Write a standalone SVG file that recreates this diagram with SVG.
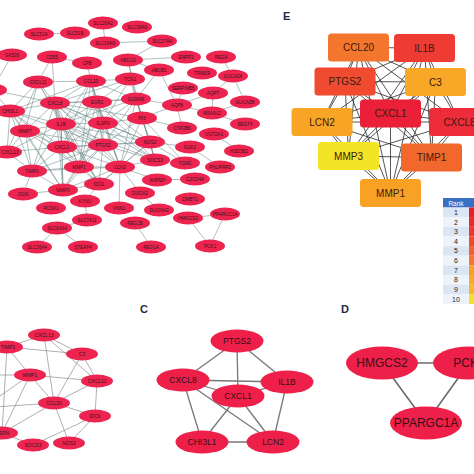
<svg xmlns="http://www.w3.org/2000/svg" width="474" height="474" viewBox="0 0 474 474">
<style>
.bg{fill:#ffffff}
.na ellipse{fill:#ee2450}
.na text{font-family:"Liberation Sans",Arial,sans-serif;font-size:4.6px;fill:#3a1418;text-anchor:middle;dominant-baseline:central}
.nb ellipse{fill:#ee2450}
.nb text{font-family:"Liberation Sans",Arial,sans-serif;font-size:5px;fill:#3a1418;text-anchor:middle;dominant-baseline:central}
.nc ellipse{fill:#ee2049}
.nc text{font-family:"Liberation Sans",Arial,sans-serif;font-size:8.5px;fill:#2e1214;text-anchor:middle;dominant-baseline:central}
.nd ellipse{fill:#ee2049}
.nd text{font-family:"Liberation Sans",Arial,sans-serif;font-size:12px;fill:#3a0e12;text-anchor:middle;dominant-baseline:central}
.ne rect{stroke:none}
.ne text{font-family:"Liberation Sans",Arial,sans-serif;font-size:10px;fill:#3a1a10;text-anchor:middle;dominant-baseline:central}
.ea line{stroke:#6d8c8a;stroke-width:0.55}
.eb line{stroke:#8c8c8c;stroke-width:0.7}
.ec line{stroke:#777777;stroke-width:1.3}
.ed line{stroke:#6b6b6b;stroke-width:1.6}
.ee line{stroke:#2a2a2a;stroke-width:0.8}
.lbl{font-family:"Liberation Sans",Arial,sans-serif;font-weight:bold;font-size:11px;fill:#1f2a44}
.rk{font-family:"Liberation Sans",Arial,sans-serif;font-size:7px;fill:#222;text-anchor:middle;dominant-baseline:central}
</style>
<rect class="bg" x="0" y="0" width="474" height="474"/>

<!-- Panel A connectors -->
<g id="connectors-a" class="ea">
<line x1="103" y1="23" x2="105" y2="43"/><line x1="39" y1="34" x2="75" y2="33"/><line x1="105" y1="43" x2="162" y2="41"/>
<line x1="162" y1="41" x2="128" y2="60"/><line x1="128" y1="60" x2="186" y2="57"/><line x1="128" y1="60" x2="159" y2="70"/>
<line x1="128" y1="60" x2="136" y2="99"/><line x1="128" y1="60" x2="142" y2="118"/><line x1="159" y1="70" x2="177" y2="105"/>
<line x1="159" y1="70" x2="136" y2="99"/><line x1="183" y1="88" x2="177" y2="105"/><line x1="213" y1="93" x2="177" y2="105"/>
<line x1="213" y1="93" x2="233" y2="76"/><line x1="213" y1="93" x2="212" y2="113"/><line x1="233" y1="76" x2="221" y2="57"/>
<line x1="233" y1="76" x2="245" y2="102"/><line x1="212" y1="113" x2="245" y2="102"/><line x1="212" y1="113" x2="245" y2="124"/>
<line x1="177" y1="105" x2="182" y2="128"/><line x1="142" y1="118" x2="182" y2="128"/><line x1="177" y1="105" x2="212" y2="113"/>
<line x1="214" y1="134" x2="239" y2="151"/><line x1="190" y1="147" x2="220" y2="167"/><line x1="188" y1="218" x2="225" y2="214"/>
<line x1="188" y1="218" x2="210" y2="246"/><line x1="225" y1="214" x2="210" y2="246"/><line x1="135" y1="223" x2="151" y2="247"/>
<line x1="140" y1="193" x2="159" y2="210"/><line x1="157" y1="180" x2="195" y2="179"/><line x1="85" y1="201" x2="99" y2="184"/>
<line x1="85" y1="201" x2="87" y2="220"/><line x1="87" y1="220" x2="57" y2="228"/><line x1="57" y1="228" x2="37" y2="247"/>
<line x1="57" y1="228" x2="83" y2="247"/><line x1="32" y1="171" x2="23" y2="194"/><line x1="23" y1="194" x2="63" y2="190"/>
<line x1="120" y1="167" x2="119" y2="208"/><line x1="120" y1="167" x2="140" y2="193"/><line x1="120" y1="167" x2="157" y2="180"/>
<line x1="150" y1="142" x2="185" y2="163"/><line x1="52" y1="57" x2="87" y2="63"/><line x1="52" y1="57" x2="38" y2="82"/>
<line x1="52" y1="57" x2="55" y2="103"/><line x1="87" y1="63" x2="91" y2="81"/><line x1="12" y1="55" x2="-8" y2="90"/>
<line x1="130" y1="79" x2="136" y2="99"/><line x1="142" y1="118" x2="177" y2="105"/><line x1="136" y1="99" x2="177" y2="105"/>
<line x1="150" y1="142" x2="190" y2="147"/><line x1="142" y1="118" x2="185" y2="163"/><line x1="-8" y1="90" x2="55" y2="103"/>
<line x1="-8" y1="90" x2="10" y2="111"/>
<line x1="55" y1="103" x2="38" y2="82"/><line x1="55" y1="103" x2="91" y2="81"/><line x1="55" y1="103" x2="97" y2="102"/>
<line x1="55" y1="103" x2="61" y2="124"/><line x1="55" y1="103" x2="103" y2="123"/><line x1="55" y1="103" x2="62" y2="147"/>
<line x1="55" y1="103" x2="103" y2="145"/><line x1="55" y1="103" x2="79" y2="167"/><line x1="55" y1="103" x2="63" y2="190"/>
<line x1="55" y1="103" x2="25" y2="131"/><line x1="55" y1="103" x2="32" y2="171"/><line x1="55" y1="103" x2="120" y2="167"/>
<line x1="55" y1="103" x2="10" y2="111"/><line x1="55" y1="103" x2="136" y2="99"/><line x1="55" y1="103" x2="142" y2="118"/>
<line x1="55" y1="103" x2="150" y2="142"/><line x1="55" y1="103" x2="155" y2="160"/><line x1="55" y1="103" x2="99" y2="184"/>
<line x1="55" y1="103" x2="130" y2="79"/>
<line x1="61" y1="124" x2="91" y2="81"/><line x1="61" y1="124" x2="97" y2="102"/><line x1="61" y1="124" x2="103" y2="123"/>
<line x1="61" y1="124" x2="62" y2="147"/><line x1="61" y1="124" x2="103" y2="145"/><line x1="61" y1="124" x2="79" y2="167"/>
<line x1="61" y1="124" x2="63" y2="190"/><line x1="61" y1="124" x2="25" y2="131"/><line x1="61" y1="124" x2="32" y2="171"/>
<line x1="61" y1="124" x2="120" y2="167"/><line x1="61" y1="124" x2="10" y2="111"/><line x1="61" y1="124" x2="38" y2="82"/>
<line x1="61" y1="124" x2="136" y2="99"/><line x1="61" y1="124" x2="150" y2="142"/><line x1="61" y1="124" x2="155" y2="160"/>
<line x1="61" y1="124" x2="99" y2="184"/><line x1="61" y1="124" x2="7" y2="152"/>
<line x1="62" y1="147" x2="91" y2="81"/><line x1="62" y1="147" x2="103" y2="145"/><line x1="62" y1="147" x2="79" y2="167"/>
<line x1="62" y1="147" x2="63" y2="190"/><line x1="62" y1="147" x2="25" y2="131"/><line x1="62" y1="147" x2="32" y2="171"/>
<line x1="62" y1="147" x2="120" y2="167"/><line x1="62" y1="147" x2="10" y2="111"/><line x1="62" y1="147" x2="7" y2="152"/>
<line x1="62" y1="147" x2="103" y2="123"/><line x1="62" y1="147" x2="97" y2="102"/><line x1="62" y1="147" x2="99" y2="184"/>
<line x1="62" y1="147" x2="150" y2="142"/>
<line x1="103" y1="145" x2="91" y2="81"/><line x1="103" y1="145" x2="97" y2="102"/><line x1="103" y1="145" x2="103" y2="123"/>
<line x1="103" y1="145" x2="79" y2="167"/><line x1="103" y1="145" x2="63" y2="190"/><line x1="103" y1="145" x2="120" y2="167"/>
<line x1="103" y1="145" x2="150" y2="142"/><line x1="103" y1="145" x2="155" y2="160"/><line x1="103" y1="145" x2="136" y2="99"/>
<line x1="103" y1="145" x2="142" y2="118"/><line x1="103" y1="145" x2="32" y2="171"/><line x1="103" y1="145" x2="99" y2="184"/>
<line x1="103" y1="145" x2="10" y2="111"/><line x1="103" y1="145" x2="25" y2="131"/>
<line x1="103" y1="123" x2="91" y2="81"/><line x1="103" y1="123" x2="97" y2="102"/><line x1="103" y1="123" x2="79" y2="167"/>
<line x1="103" y1="123" x2="120" y2="167"/><line x1="103" y1="123" x2="136" y2="99"/><line x1="103" y1="123" x2="142" y2="118"/>
<line x1="103" y1="123" x2="150" y2="142"/><line x1="103" y1="123" x2="155" y2="160"/><line x1="103" y1="123" x2="130" y2="79"/>
<line x1="103" y1="123" x2="63" y2="190"/>
<line x1="91" y1="81" x2="38" y2="82"/><line x1="91" y1="81" x2="97" y2="102"/><line x1="91" y1="81" x2="130" y2="79"/>
<line x1="91" y1="81" x2="136" y2="99"/><line x1="91" y1="81" x2="79" y2="167"/><line x1="91" y1="81" x2="10" y2="111"/>
<line x1="91" y1="81" x2="120" y2="167"/><line x1="97" y1="102" x2="136" y2="99"/><line x1="97" y1="102" x2="130" y2="79"/>
<line x1="97" y1="102" x2="120" y2="167"/><line x1="97" y1="102" x2="79" y2="167"/><line x1="97" y1="102" x2="150" y2="142"/>
<line x1="97" y1="102" x2="155" y2="160"/>
<line x1="79" y1="167" x2="63" y2="190"/><line x1="79" y1="167" x2="32" y2="171"/><line x1="79" y1="167" x2="25" y2="131"/>
<line x1="79" y1="167" x2="120" y2="167"/><line x1="79" y1="167" x2="99" y2="184"/><line x1="79" y1="167" x2="10" y2="111"/>
<line x1="63" y1="190" x2="32" y2="171"/><line x1="63" y1="190" x2="25" y2="131"/><line x1="63" y1="190" x2="120" y2="167"/>
<line x1="63" y1="190" x2="99" y2="184"/><line x1="63" y1="190" x2="10" y2="111"/>
<line x1="120" y1="167" x2="136" y2="99"/><line x1="120" y1="167" x2="142" y2="118"/><line x1="120" y1="167" x2="32" y2="171"/>
<line x1="120" y1="167" x2="150" y2="142"/><line x1="120" y1="167" x2="99" y2="184"/><line x1="120" y1="167" x2="155" y2="160"/>
<line x1="136" y1="99" x2="142" y2="118"/><line x1="136" y1="99" x2="150" y2="142"/><line x1="136" y1="99" x2="155" y2="160"/>
<line x1="142" y1="118" x2="155" y2="160"/><line x1="142" y1="118" x2="150" y2="142"/>
<line x1="38" y1="82" x2="10" y2="111"/><line x1="38" y1="82" x2="7" y2="152"/><line x1="38" y1="82" x2="99" y2="184"/>
<line x1="38" y1="82" x2="25" y2="131"/><line x1="10" y1="111" x2="25" y2="131"/><line x1="10" y1="111" x2="32" y2="171"/>
<line x1="10" y1="111" x2="7" y2="152"/><line x1="25" y1="131" x2="32" y2="171"/><line x1="25" y1="131" x2="7" y2="152"/>
<line x1="32" y1="171" x2="7" y2="152"/><line x1="150" y1="142" x2="155" y2="160"/><line x1="150" y1="142" x2="99" y2="184"/>
</g>

<!-- Panel A nodes -->
<g class="na">
<g id="a-SLC26A2"><ellipse cx="103" cy="23" rx="15" ry="6.5"/><text x="103" y="23">SLC26A2</text></g>
<g id="a-SLC38A9"><ellipse cx="137" cy="27" rx="15" ry="6.5"/><text x="137" y="27">SLC38A9</text></g>
<g id="a-SLC51A"><ellipse cx="39" cy="34" rx="15" ry="6.5"/><text x="39" y="34">SLC51A</text></g>
<g id="a-SLC51B"><ellipse cx="75" cy="33" rx="15" ry="6.5"/><text x="75" y="33">SLC51B</text></g>
<g id="a-SLC16A9"><ellipse cx="105" cy="43" rx="15" ry="6.5"/><text x="105" y="43">SLC16A9</text></g>
<g id="a-SLC17A4"><ellipse cx="162" cy="41" rx="15" ry="6.5"/><text x="162" y="41">SLC17A4</text></g>
<g id="a-GK529"><ellipse cx="12" cy="55" rx="15" ry="6.5"/><text x="12" y="55">GK529</text></g>
<g id="a-CD55"><ellipse cx="52" cy="57" rx="15" ry="6.5"/><text x="52" y="57">CD55</text></g>
<g id="a-CFB"><ellipse cx="87" cy="63" rx="15" ry="6.5"/><text x="87" y="63">CFB</text></g>
<g id="a-ABCG2"><ellipse cx="128" cy="60" rx="15" ry="6.5"/><text x="128" y="60">ABCG2</text></g>
<g id="a-ENPP1"><ellipse cx="186" cy="57" rx="15" ry="6.5"/><text x="186" y="57">ENPP1</text></g>
<g id="a-REG4"><ellipse cx="221" cy="57" rx="15" ry="6.5"/><text x="221" y="57">REG4</text></g>
<g id="a-ABCB1"><ellipse cx="159" cy="70" rx="15" ry="6.5"/><text x="159" y="70">ABCB1</text></g>
<g id="a-TRIM29"><ellipse cx="202" cy="73" rx="15" ry="6.5"/><text x="202" y="73">TRIM29</text></g>
<g id="a-GUCA2A"><ellipse cx="233" cy="76" rx="15" ry="6.5"/><text x="233" y="76">GUCA2A</text></g>
<g id="a-CXCL11"><ellipse cx="38" cy="82" rx="15" ry="6.5"/><text x="38" y="82">CXCL11</text></g>
<g id="a-CCL20"><ellipse cx="91" cy="81" rx="15" ry="6.5"/><text x="91" y="81">CCL20</text></g>
<g id="a-TCN1"><ellipse cx="130" cy="79" rx="15" ry="6.5"/><text x="130" y="79">TCN1</text></g>
<g id="a-SERPINB5"><ellipse cx="183" cy="88" rx="15" ry="6.5"/><text x="183" y="88">SERPINB5</text></g>
<g id="a-AQP7"><ellipse cx="213" cy="93" rx="15" ry="6.5"/><text x="213" y="93">AQP7</text></g>
<g id="a-GUCA2B"><ellipse cx="245" cy="102" rx="15" ry="6.5"/><text x="245" y="102">GUCA2B</text></g>
<g id="a-edge"><ellipse cx="-8" cy="90" rx="15" ry="6.5"/></g>
<g id="a-S100A8"><ellipse cx="136" cy="99" rx="15" ry="6.5"/><text x="136" y="99">S100A8</text></g>
<g id="a-CXCL8"><ellipse cx="55" cy="103" rx="15" ry="6.5"/><text x="55" y="103">CXCL8</text></g>
<g id="a-EGR1"><ellipse cx="97" cy="102" rx="15" ry="6.5"/><text x="97" y="102">EGR1</text></g>
<g id="a-AQP8"><ellipse cx="177" cy="105" rx="15" ry="6.5"/><text x="177" y="105">AQP8</text></g>
<g id="a-CHI3L1"><ellipse cx="10" cy="111" rx="15" ry="6.5"/><text x="10" y="111">CHI3L1</text></g>
<g id="a-MS4A12"><ellipse cx="212" cy="113" rx="15" ry="6.5"/><text x="212" y="113">MS4A12</text></g>
<g id="a-PI3"><ellipse cx="142" cy="118" rx="15" ry="6.5"/><text x="142" y="118">PI3</text></g>
<g id="a-IL1B"><ellipse cx="61" cy="124" rx="15" ry="6.5"/><text x="61" y="124">IL1B</text></g>
<g id="a-IL1RN"><ellipse cx="103" cy="123" rx="15" ry="6.5"/><text x="103" y="123">IL1RN</text></g>
<g id="a-BEST4"><ellipse cx="245" cy="124" rx="15" ry="6.5"/><text x="245" y="124">BEST4</text></g>
<g id="a-CYP2B6"><ellipse cx="182" cy="128" rx="15" ry="6.5"/><text x="182" y="128">CYP2B6</text></g>
<g id="a-MMP7"><ellipse cx="25" cy="131" rx="15" ry="6.5"/><text x="25" y="131">MMP7</text></g>
<g id="a-UGT2A3"><ellipse cx="214" cy="134" rx="15" ry="6.5"/><text x="214" y="134">UGT2A3</text></g>
<g id="a-CXCL1"><ellipse cx="62" cy="147" rx="15" ry="6.5"/><text x="62" y="147">CXCL1</text></g>
<g id="a-PTGS2"><ellipse cx="103" cy="145" rx="15" ry="6.5"/><text x="103" y="145">PTGS2</text></g>
<g id="a-NOS2"><ellipse cx="150" cy="142" rx="15" ry="6.5"/><text x="150" y="142">NOS2</text></g>
<g id="a-SGK2"><ellipse cx="190" cy="147" rx="15" ry="6.5"/><text x="190" y="147">SGK2</text></g>
<g id="a-HSD3B2"><ellipse cx="239" cy="151" rx="15" ry="6.5"/><text x="239" y="151">HSD3B2</text></g>
<g id="a-CXCL13"><ellipse cx="7" cy="152" rx="15" ry="6.5"/><text x="10" y="152">CXCL13</text></g>
<g id="a-SOCS3"><ellipse cx="155" cy="160" rx="15" ry="6.5"/><text x="155" y="160">SOCS3</text></g>
<g id="a-TGM2"><ellipse cx="185" cy="163" rx="15" ry="6.5"/><text x="185" y="163">TGM2</text></g>
<g id="a-PNLIPRP2"><ellipse cx="220" cy="167" rx="15" ry="6.5"/><text x="220" y="167">PNLIPRP2</text></g>
<g id="a-LCN2"><ellipse cx="120" cy="167" rx="15" ry="6.5"/><text x="120" y="167">LCN2</text></g>
<g id="a-MMP1"><ellipse cx="79" cy="167" rx="15" ry="6.5"/><text x="79" y="167">MMP1</text></g>
<g id="a-TIMP1"><ellipse cx="32" cy="171" rx="15" ry="6.5"/><text x="32" y="171">TIMP1</text></g>
<g id="a-ANPEP"><ellipse cx="157" cy="180" rx="15" ry="6.5"/><text x="157" y="180">ANPEP</text></g>
<g id="a-C2CD4A"><ellipse cx="195" cy="179" rx="15" ry="6.5"/><text x="195" y="179">C2CD4A</text></g>
<g id="a-IDO1"><ellipse cx="99" cy="184" rx="15" ry="6.5"/><text x="99" y="184">IDO1</text></g>
<g id="a-MMP3"><ellipse cx="63" cy="190" rx="15" ry="6.5"/><text x="63" y="190">MMP3</text></g>
<g id="a-OGN"><ellipse cx="23" cy="194" rx="15" ry="6.5"/><text x="23" y="194">OGN</text></g>
<g id="a-DUOX2"><ellipse cx="140" cy="193" rx="15" ry="6.5"/><text x="140" y="193">DUOX2</text></g>
<g id="a-DMBT1"><ellipse cx="190" cy="199" rx="15" ry="6.5"/><text x="190" y="199">DMBT1</text></g>
<g id="a-KYNU"><ellipse cx="85" cy="201" rx="15" ry="6.5"/><text x="85" y="201">KYNU</text></g>
<g id="a-PCSK1"><ellipse cx="51" cy="208" rx="15" ry="6.5"/><text x="51" y="208">PCSK1</text></g>
<g id="a-VNN1"><ellipse cx="119" cy="208" rx="15" ry="6.5"/><text x="119" y="208">VNN1</text></g>
<g id="a-DUOXA2"><ellipse cx="159" cy="210" rx="15" ry="6.5"/><text x="159" y="210">DUOXA2</text></g>
<g id="a-HMGCS2"><ellipse cx="188" cy="218" rx="15" ry="6.5"/><text x="188" y="218">HMGCS2</text></g>
<g id="a-PPARGC1A"><ellipse cx="225" cy="214" rx="15" ry="6.5"/><text x="225" y="214">PPARGC1A</text></g>
<g id="a-SLC7A11"><ellipse cx="87" cy="220" rx="15" ry="6.5"/><text x="87" y="220">SLC7A11</text></g>
<g id="a-REG1B"><ellipse cx="135" cy="223" rx="15" ry="6.5"/><text x="135" y="223">REG1B</text></g>
<g id="a-SLC6A14"><ellipse cx="57" cy="228" rx="15" ry="6.5"/><text x="57" y="228">SLC6A14</text></g>
<g id="a-SLC26A4"><ellipse cx="37" cy="247" rx="15" ry="6.5"/><text x="37" y="247">SLC26A4</text></g>
<g id="a-STEAP4"><ellipse cx="83" cy="247" rx="15" ry="6.5"/><text x="83" y="247">STEAP4</text></g>
<g id="a-REG1A"><ellipse cx="151" cy="247" rx="15" ry="6.5"/><text x="151" y="247">REG1A</text></g>
<g id="a-PCK1"><ellipse cx="210" cy="246" rx="15" ry="6.5"/><text x="210" y="246">PCK1</text></g>
</g>

<!-- Panel E -->
<text class="lbl" x="283" y="20">E</text>
<g id="connectors-e" class="ee">
<line x1="358.5" y1="47.5" x2="424.5" y2="48"/><line x1="358.5" y1="47.5" x2="345" y2="81.5"/><line x1="358.5" y1="47.5" x2="435.5" y2="82"/>
<line x1="358.5" y1="47.5" x2="390.5" y2="113.5"/><line x1="358.5" y1="47.5" x2="322" y2="122"/><line x1="358.5" y1="47.5" x2="459.5" y2="122"/>
<line x1="358.5" y1="47.5" x2="348.5" y2="156"/><line x1="358.5" y1="47.5" x2="431.5" y2="157.5"/><line x1="358.5" y1="47.5" x2="390.5" y2="193"/>
<line x1="424.5" y1="48" x2="345" y2="81.5"/><line x1="424.5" y1="48" x2="435.5" y2="82"/><line x1="424.5" y1="48" x2="390.5" y2="113.5"/>
<line x1="424.5" y1="48" x2="322" y2="122"/><line x1="424.5" y1="48" x2="459.5" y2="122"/><line x1="424.5" y1="48" x2="348.5" y2="156"/>
<line x1="424.5" y1="48" x2="431.5" y2="157.5"/><line x1="424.5" y1="48" x2="390.5" y2="193"/>
<line x1="345" y1="81.5" x2="435.5" y2="82"/><line x1="345" y1="81.5" x2="390.5" y2="113.5"/><line x1="345" y1="81.5" x2="322" y2="122"/>
<line x1="345" y1="81.5" x2="459.5" y2="122"/><line x1="345" y1="81.5" x2="348.5" y2="156"/><line x1="345" y1="81.5" x2="431.5" y2="157.5"/>
<line x1="345" y1="81.5" x2="390.5" y2="193"/>
<line x1="435.5" y1="82" x2="390.5" y2="113.5"/><line x1="435.5" y1="82" x2="322" y2="122"/><line x1="435.5" y1="82" x2="459.5" y2="122"/>
<line x1="435.5" y1="82" x2="348.5" y2="156"/><line x1="435.5" y1="82" x2="431.5" y2="157.5"/><line x1="435.5" y1="82" x2="390.5" y2="193"/>
<line x1="390.5" y1="113.5" x2="322" y2="122"/><line x1="390.5" y1="113.5" x2="459.5" y2="122"/><line x1="390.5" y1="113.5" x2="348.5" y2="156"/>
<line x1="390.5" y1="113.5" x2="431.5" y2="157.5"/><line x1="390.5" y1="113.5" x2="390.5" y2="193"/>
<line x1="322" y1="122" x2="459.5" y2="122"/><line x1="322" y1="122" x2="348.5" y2="156"/><line x1="322" y1="122" x2="431.5" y2="157.5"/>
<line x1="322" y1="122" x2="390.5" y2="193"/>
<line x1="459.5" y1="122" x2="348.5" y2="156"/><line x1="459.5" y1="122" x2="431.5" y2="157.5"/><line x1="459.5" y1="122" x2="390.5" y2="193"/>
<line x1="348.5" y1="156" x2="431.5" y2="157.5"/><line x1="348.5" y1="156" x2="390.5" y2="193"/><line x1="431.5" y1="157.5" x2="390.5" y2="193"/>
</g>
<g class="ne">
<g id="e-CCL20"><rect x="328" y="33.5" width="61" height="28" rx="3.5" fill="#f4762c"/><text x="358.5" y="47.5">CCL20</text></g>
<g id="e-IL1B"><rect x="394" y="34" width="61" height="28" rx="3.5" fill="#ee3b33"/><text x="424.5" y="48">IL1B</text></g>
<g id="e-PTGS2"><rect x="314.5" y="67.5" width="61" height="28" rx="3.5" fill="#f04a30"/><text x="345" y="81.5">PTGS2</text></g>
<g id="e-C3"><rect x="405" y="68" width="61" height="28" rx="3.5" fill="#f8a726"/><text x="435.5" y="82">C3</text></g>
<g id="e-LCN2"><rect x="291.5" y="108" width="61" height="28" rx="3.5" fill="#f8a526"/><text x="322" y="122">LCN2</text></g>
<g id="e-CXCL1"><rect x="360" y="99.5" width="61" height="28" rx="3.5" fill="#ec1f38"/><text x="390.5" y="113.5">CXCL1</text></g>
<g id="e-CXCL8"><rect x="429" y="108" width="61" height="28" rx="3.5" fill="#ee2b38"/><text x="459.5" y="122">CXCL8</text></g>
<g id="e-MMP3"><rect x="318" y="142" width="61" height="28" rx="3.5" fill="#f4e426"/><text x="348.5" y="156">MMP3</text></g>
<g id="e-TIMP1"><rect x="401" y="143.5" width="61" height="28" rx="3.5" fill="#f2682c"/><text x="431.5" y="157.5">TIMP1</text></g>
<g id="e-MMP1"><rect x="360" y="179" width="61" height="28" rx="3.5" fill="#f8a124"/><text x="390.5" y="193">MMP1</text></g>
</g>

<!-- Rank table -->
<g id="rank-table">
<rect x="443" y="198" width="31" height="9.5" fill="#3b6fc4"/>
<text x="456" y="203" style="font-family:'Liberation Sans',Arial,sans-serif;font-size:6.5px;fill:#ffffff;text-anchor:middle;dominant-baseline:central">Rank</text>
<rect x="443" y="207.5" width="26" height="9.65" fill="#dce6f2"/><rect x="469" y="207.5" width="5" height="9.65" fill="#e81e26"/><text class="rk" x="456" y="212.3">1</text>
<rect x="443" y="217.15" width="26" height="9.65" fill="#eef3f9"/><rect x="469" y="217.15" width="5" height="9.65" fill="#ea2a2a"/><text class="rk" x="456" y="222">2</text>
<rect x="443" y="226.8" width="26" height="9.65" fill="#dce6f2"/><rect x="469" y="226.8" width="5" height="9.65" fill="#ec3a2a"/><text class="rk" x="456" y="231.6">3</text>
<rect x="443" y="236.45" width="26" height="9.65" fill="#eef3f9"/><rect x="469" y="236.45" width="5" height="9.65" fill="#ee4a2c"/><text class="rk" x="456" y="241.3">4</text>
<rect x="443" y="246.1" width="26" height="9.65" fill="#dce6f2"/><rect x="469" y="246.1" width="5" height="9.65" fill="#f0622c"/><text class="rk" x="456" y="250.9">5</text>
<rect x="443" y="255.75" width="26" height="9.65" fill="#eef3f9"/><rect x="469" y="255.75" width="5" height="9.65" fill="#f2762c"/><text class="rk" x="456" y="260.6">6</text>
<rect x="443" y="265.4" width="26" height="9.65" fill="#dce6f2"/><rect x="469" y="265.4" width="5" height="9.65" fill="#f6a024"/><text class="rk" x="456" y="270.2">7</text>
<rect x="443" y="275.05" width="26" height="9.65" fill="#eef3f9"/><rect x="469" y="275.05" width="5" height="9.65" fill="#f7a826"/><text class="rk" x="456" y="279.9">8</text>
<rect x="443" y="284.7" width="26" height="9.65" fill="#dce6f2"/><rect x="469" y="284.7" width="5" height="9.65" fill="#f6b828"/><text class="rk" x="456" y="289.5">9</text>
<rect x="443" y="294.35" width="26" height="9.65" fill="#eef3f9"/><rect x="469" y="294.35" width="5" height="9.65" fill="#f3e224"/><text class="rk" x="456" y="299.2">10</text>
</g>

<!-- Panel B -->
<g id="connectors-b" class="eb">
<line x1="44" y1="335" x2="82" y2="354"/><line x1="44" y1="335" x2="97" y2="381"/><line x1="44" y1="335" x2="7" y2="347"/>
<line x1="44" y1="335" x2="54" y2="403"/><line x1="7" y1="347" x2="82" y2="354"/><line x1="7" y1="347" x2="30" y2="375"/>
<line x1="7" y1="347" x2="2" y2="433"/><line x1="7" y1="347" x2="-20" y2="362"/><line x1="30" y1="375" x2="97" y2="381"/>
<line x1="30" y1="375" x2="54" y2="403"/><line x1="30" y1="375" x2="2" y2="433"/><line x1="30" y1="375" x2="-20" y2="375"/>
<line x1="30" y1="375" x2="-20" y2="410"/><line x1="82" y1="354" x2="54" y2="403"/><line x1="82" y1="354" x2="97" y2="381"/>
<line x1="54" y1="403" x2="97" y2="381"/><line x1="54" y1="403" x2="95" y2="416"/><line x1="54" y1="403" x2="69" y2="443"/>
<line x1="54" y1="403" x2="-20" y2="408"/><line x1="54" y1="403" x2="2" y2="433"/><line x1="97" y1="381" x2="95" y2="416"/>
<line x1="95" y1="416" x2="69" y2="443"/><line x1="95" y1="416" x2="33" y2="445"/><line x1="2" y1="433" x2="33" y2="445"/>
</g>
<g class="nb">
<g id="b-CXCL13"><ellipse cx="44" cy="335" rx="16" ry="6.5"/><text x="44" y="335">CXCL13</text></g>
<g id="b-TIMP1"><ellipse cx="7" cy="347" rx="16" ry="6.5"/><text x="8" y="347">TIMP1</text></g>
<g id="b-C3"><ellipse cx="82" cy="354" rx="16" ry="6.5"/><text x="82" y="354">C3</text></g>
<g id="b-MMP1"><ellipse cx="30" cy="375" rx="16" ry="6.5"/><text x="30" y="375">MMP1</text></g>
<g id="b-CXCL11"><ellipse cx="97" cy="381" rx="16" ry="6.5"/><text x="97" y="381">CXCL11</text></g>
<g id="b-CCL20"><ellipse cx="54" cy="403" rx="16" ry="6.5"/><text x="54" y="403">CCL20</text></g>
<g id="b-IDO1"><ellipse cx="95" cy="416" rx="16" ry="6.5"/><text x="95" y="416">IDO1</text></g>
<g id="b-IL1RN"><ellipse cx="2" cy="433" rx="16" ry="6.5"/><text x="2" y="433">IL1RN</text></g>
<g id="b-NOS2"><ellipse cx="69" cy="443" rx="16" ry="6.5"/><text x="69" y="443">NOS2</text></g>
<g id="b-SOCS3"><ellipse cx="33" cy="445" rx="16" ry="6.5"/><text x="33" y="445">SOCS3</text></g>
</g>

<!-- Panel C -->
<text class="lbl" x="140" y="313">C</text>
<g id="connectors-c" class="ec">
<line x1="237" y1="341" x2="183" y2="380"/><line x1="237" y1="341" x2="287" y2="382"/><line x1="237" y1="341" x2="238" y2="396"/>
<line x1="183" y1="380" x2="287" y2="382"/><line x1="183" y1="380" x2="238" y2="396"/><line x1="183" y1="380" x2="202" y2="442"/>
<line x1="183" y1="380" x2="273" y2="442"/><line x1="287" y1="382" x2="238" y2="396"/><line x1="287" y1="382" x2="273" y2="442"/>
<line x1="238" y1="396" x2="202" y2="442"/><line x1="238" y1="396" x2="273" y2="442"/><line x1="202" y1="442" x2="273" y2="442"/>
</g>
<g class="nc">
<g id="c-PTGS2"><ellipse cx="237" cy="341" rx="26.5" ry="11.5"/><text x="237" y="341">PTGS2</text></g>
<g id="c-CXCL8"><ellipse cx="183" cy="380" rx="26.5" ry="11.5"/><text x="183" y="380">CXCL8</text></g>
<g id="c-IL1B"><ellipse cx="287" cy="382" rx="26.5" ry="11.5"/><text x="287" y="382">IL1B</text></g>
<g id="c-CXCL1"><ellipse cx="238" cy="396" rx="26.5" ry="11.5"/><text x="238" y="396">CXCL1</text></g>
<g id="c-CHI3L1"><ellipse cx="202" cy="442" rx="26.5" ry="11.5"/><text x="202" y="442">CHI3L1</text></g>
<g id="c-LCN2"><ellipse cx="273" cy="442" rx="26.5" ry="11.5"/><text x="273" y="442">LCN2</text></g>
</g>

<!-- Panel D -->
<text class="lbl" x="341" y="313">D</text>
<g id="connectors-d" class="ed">
<line x1="382" y1="363" x2="469" y2="363"/><line x1="382" y1="363" x2="426" y2="423"/><line x1="469" y1="363" x2="426" y2="423"/>
</g>
<g class="nd">
<g id="d-HMGCS2"><ellipse cx="382" cy="363" rx="36" ry="16.5"/><text x="382" y="363">HMGCS2</text></g>
<g id="d-PCK1"><ellipse cx="469" cy="363" rx="36" ry="16.5"/><text x="469" y="363">PCK1</text></g>
<g id="d-PPARGC1A"><ellipse cx="426" cy="423" rx="36" ry="16.5"/><text x="426" y="423">PPARGC1A</text></g>
</g>
</svg>
